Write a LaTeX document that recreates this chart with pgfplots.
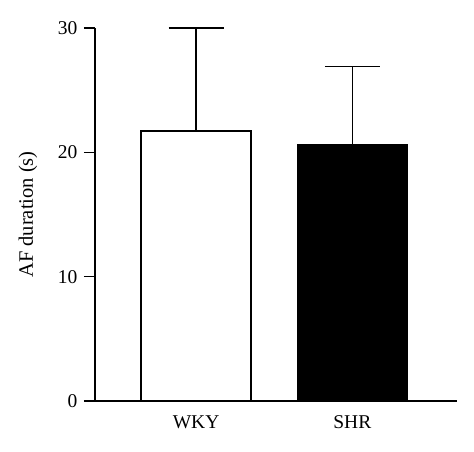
\documentclass[border=0pt]{standalone}
\usepackage{fontspec}
\setmainfont{Liberation Serif}
\usepackage{pgfplots}
\pgfplotsset{compat=1.18}
\begin{document}
\begin{tikzpicture}[x=1pt,y=1pt]
\useasboundingbox (0,0) rectangle (474,452);
\begin{axis}[
  at={(95pt,51pt)}, anchor=south west,
  scale only axis, width=362pt, height=373pt,
  xmin=-0.647, xmax=1.67, ymin=0, ymax=30,
  axis x line=bottom, axis y line=left,
  axis line style={-, line width=1.4pt},
  ytick={0,10,20,30}, tick align=outside, major tick length=11pt,
  tick style={line width=1.4pt, black},
  xtick={0,1}, xticklabels={WKY,SHR},
  x tick style={draw=none},
  ticklabel style={font=\fontsize{19.5}{22}\selectfont},
  /pgf/number format/assume math mode=true,
  yticklabel style={xshift=-3pt},
  xticklabel style={yshift=0pt},
  ylabel={AF duration (s)},
  every axis y label/.style={at={(axis description cs:-0.185,0.5)}, rotate=90, anchor=center, font=\fontsize{20.5}{24}\selectfont},
  clip=false,
]
\addplot[ybar, bar width=0.705, draw=black, line width=1.4pt, fill=white,
  error bars/.cd, y dir=plus, y explicit,
  error bar style={line width=1.5pt, black},
  error mark options={rotate=90, line width=1.4pt, mark size=27.5pt, black}]
  coordinates {(0,21.7) +- (0,8.3)};
\addplot[ybar, bar width=0.705, draw=black, line width=1.4pt, fill=black,
  error bars/.cd, y dir=plus, y explicit,
  error bar style={line width=1.5pt, black},
  error mark options={rotate=90, line width=1.4pt, mark size=27.5pt, black}]
  coordinates {(1,20.65) +- (0,6.25)};
\end{axis}
\end{tikzpicture}
\end{document}
